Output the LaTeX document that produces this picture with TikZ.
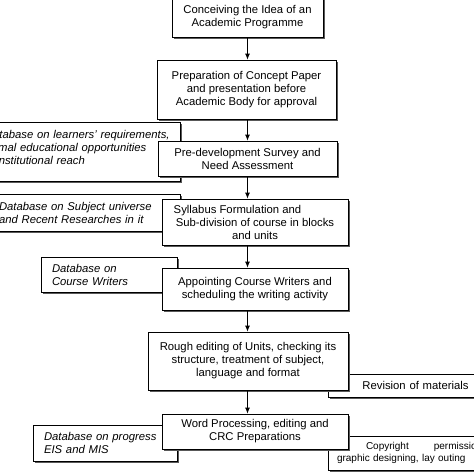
\documentclass[tikz,border=0pt]{standalone}
\usepackage{fontspec}
\setmainfont{Liberation Sans}
\usetikzlibrary{shadows,arrows.meta}

\begin{document}
\begin{tikzpicture}[x=1pt,y=-1pt,
	box/.style={rectangle, draw, fill=white, line width=0.8pt, align=center,
	inner sep=2pt, font=\fontsize{11.3}{13}\selectfont,
	drop shadow={shadow xshift=2pt,shadow yshift=-2pt,fill=black!65,opacity=1}},
	side/.style={box, align=left, inner xsep=11pt},
	db/.style={side, font=\fontsize{11.3}{13}\selectfont\itshape},
	>={Latex[length=6pt,width=5pt]}]

\useasboundingbox (0,0) rectangle (474,474);
\clip (0,0) rectangle (474,474);

% side boxes, behind the main column
\node[db, text width=184pt, minimum height=59pt] (learners) at (77,151.5)
	{\mbox{Database on learners' requirements,}\\formal educational opportunities\\\& institutional reach\\[-4pt]\mbox{}};
\node[db, text width=170pt, minimum height=37pt] (subject) at (84,212.5)
	{Database on Subject universe\\and Recent Researches in it};
\node[db, text width=114pt, minimum height=35pt] (dbwriters) at (109,274.5)
	{Database on\\Course Writers};
\node[db, text width=122pt, minimum height=36pt] (progress) at (105,443)
	{Database on progress\\EIS and MIS};
\node[side, align=center, text width=153pt, minimum height=23pt] (revision) at (415.5,385.5)
	{Revision of materials};
\node[side, inner xsep=9pt, text width=148pt, minimum height=34pt,
	font=\fontsize{10}{12}\selectfont] (copyright) at (411,453)
	{\hspace*{29pt}Copyright\hfill permission,\\graphic designing, lay outing};

% main column
\node[box, minimum width=151pt, minimum height=39pt] (idea) at (247.5,17.5)
	{Conceiving the Idea of an\\Academic Programme};
\node[box, minimum width=179pt, minimum height=59pt] (paper) at (246.5,89.5)
	{Preparation of Concept Paper\\and presentation before\\Academic Body for approval};
\node[box, minimum width=179pt, minimum height=35pt] (survey) at (247.5,158.5)
	{Pre-development Survey and\\Need Assessment};
\node[box, minimum width=186pt, minimum height=46pt] (syllabus) at (255,222)
	{Syllabus Formulation and\hspace*{35pt}\\Sub-division of course in blocks\\and units};
\fill[white] ([shift={(1,-4)}]syllabus.south west) rectangle ([shift={(-1,-0.6)}]syllabus.south east);
\node[box, minimum width=186pt, minimum height=42pt] (writers) at (255,289)
	{Appointing Course Writers and\\scheduling the writing activity};
\node[box, minimum width=200pt, minimum height=58pt] (editing) at (248,361)
	{Rough editing of Units, checking its\\structure, treatment of subject,\\language and format};
\node[box, minimum width=186pt, minimum height=35pt] (wordproc) at (255,431.5)
	{Word Processing, editing and\\CRC Preparations};
\fill[white] ([shift={(1,-4)}]wordproc.south west) rectangle ([shift={(-1,-0.6)}]wordproc.south east);

\coordinate (axis) at (247.5,0);
\draw[->, line width=0.8pt] (idea.south -| axis) -- (paper.north -| axis);
\draw[->, line width=0.8pt] (paper.south -| axis) -- (survey.north -| axis);
\draw[->, line width=0.8pt] (survey.south -| axis) -- (syllabus.north -| axis);
\draw[->, line width=0.8pt] (syllabus.south -| axis) -- (writers.north -| axis);
\draw[->, line width=0.8pt] (writers.south -| axis) -- (editing.north -| axis);
\draw[->, line width=0.8pt] (editing.south -| axis) -- (wordproc.north -| axis);
\end{tikzpicture}
\end{document}
